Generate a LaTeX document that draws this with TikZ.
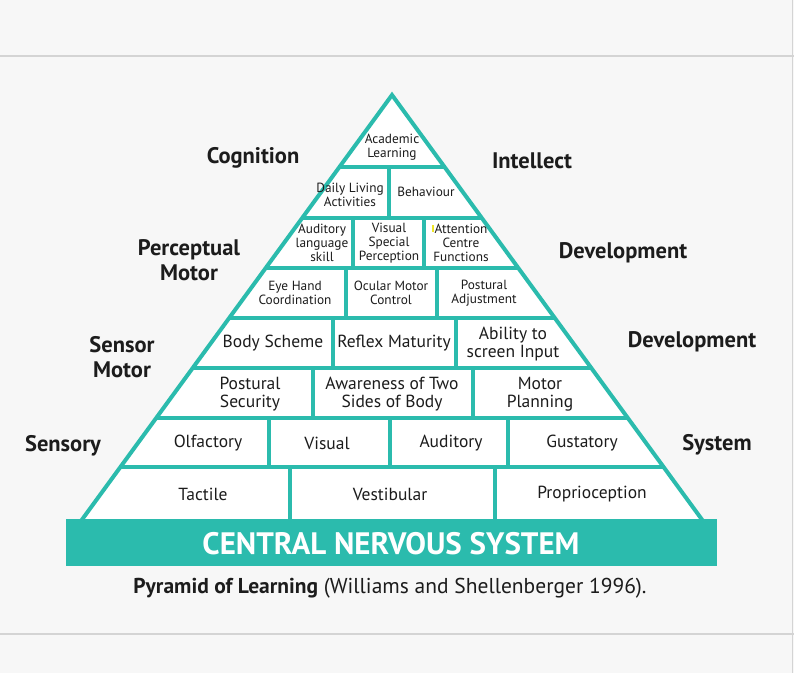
\documentclass[tikz,border=0pt]{standalone}
\usepackage{fontspec}
\setmainfont{PT Sans}
\definecolor{teal1}{RGB}{43,187,173}
\definecolor{bgc}{RGB}{247,247,247}
\definecolor{sepc}{RGB}{212,212,212}
\definecolor{txt}{RGB}{28,28,28}
\definecolor{hl}{RGB}{240,230,40}
\begin{document}
\begin{tikzpicture}[x=1pt,y=-1pt,
  cell/.style={font=\fontsize{17.5}{18}\selectfont, align=center, text=txt, inner sep=0},
  small/.style={font=\fontsize{13.3}{14}\selectfont, align=center, text=txt, inner sep=0},
  side/.style={font=\fontsize{22.5}{25}\selectfont\bfseries, align=center, text=txt, inner sep=0},
  tline/.style={draw=teal1, line width=4pt},
  sepline/.style={draw=sepc, line width=1.5pt}]
\fill[bgc] (0,0) rectangle (794,673);
\useasboundingbox (0,0) rectangle (794,673);
\draw[sepline] (0,56) -- (794,56);
\draw[sepline] (0,634) -- (794,634);
\draw[sepline, line width=1.2pt] (792.6,0) -- (792.6,673);

\coordinate (apex) at (392,95);
\coordinate (bl) at (81,521);
\coordinate (br) at (703,521);
\fill[white] (apex) -- (bl) -- (br) -- cycle;
\begin{scope}
  \clip (apex) -- (bl) -- (br) -- cycle;
  \foreach \y in {167,218,268,318,368,418,467} \draw[tline] (0,\y) -- (794,\y);
  \foreach \x/\a/\b in {389/167/218, 353/218/268, 424/218/268, 346/268/318, 437/268/318,
      333/318/368, 456/318/368, 313/368/418, 473/368/418, 269/418/467, 390/418/467,
      508/418/467, 290/467/521, 495/467/521}
    \draw[tline] (\x,\a) -- (\x,\b);
\end{scope}
\draw[tline, line join=miter] (bl) -- (apex) -- (br);

\fill[teal1] (66,519) rectangle (717,566);
\node[font=\fontsize{31}{32}\selectfont\bfseries, text=white, inner sep=0] (cns) at (391,544) {CENTRAL NERVOUS SYSTEM};

% highlight mark
\fill[hl] (431.5,224.5) rectangle (433.5,232);

% cells
\node[small] (acad) at (392,147) {Academic\\Learning};
\node[small] (daily) at (350,195) {Daily Living\\Activities};
\node[small] (behav) at (426,192) {Behaviour};
\node[small] (audl) at (322,243) {Auditory\\language\\skill};
\node[small] (vsp) at (389,243) {Visual\\Special\\Perception};
\node[small] (att) at (461,243) {Attention\\Centre\\Functions};
\node[small] (eyeh) at (295,293) {Eye Hand\\Coordination};
\node[small] (ocul) at (391,293) {Ocular Motor\\Control};
\node[small] (padj) at (484,293) {Postural\\Adjustment};
\node[cell] (body) at (273,343) {Body Scheme};
\node[cell] (refl) at (394,343) {Reflex Maturity};
\node[cell] (abil) at (513,344) {Ability to\\screen Input};
\node[cell] (psec) at (250,394) {Postural\\Security};
\node[cell] (awar) at (392,394) {Awareness of Two\\Sides of Body};
\node[cell] (mplan) at (540,394) {Motor\\Planning};
\node[cell] (olf) at (208,443) {Olfactory};
\node[cell] (vis) at (327,443) {Visual};
\node[cell] (aud) at (451,443) {Auditory};
\node[cell] (gus) at (582,443) {Gustatory};
\node[cell] (tac) at (203,494) {Tactile};
\node[cell] (vest) at (390,494) {Vestibular};
\node[cell] (prop) at (592,494) {Proprioception};

% side labels
\node[side] (cog) at (253,158) {Cognition};
\node[side] (intel) at (532,161) {Intellect};
\node[side] (percm) at (189,260) {Perceptual\\Motor};
\node[side] (dev1) at (623,253) {Development};
\node[side] (sensm) at (122,357) {Sensor\\Motor};
\node[side] (dev2) at (692,342) {Development};
\node[side] (sensy) at (63,446) {Sensory};
\node[side] (syst) at (717,445) {System};

% caption
\node[font=\fontsize{21.5}{22}\selectfont, text=txt, inner sep=0] (cap) at (390,588)
  {\textbf{Pyramid of Learning} (Williams and Shellenberger 1996).};
\end{tikzpicture}
\end{document}
